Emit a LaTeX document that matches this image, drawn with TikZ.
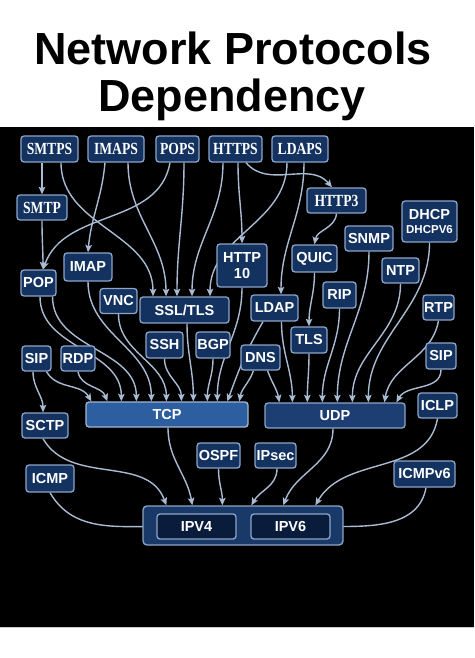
\documentclass[tikz,border=0pt]{standalone}
\usepackage{fontspec}
\setmainfont{Liberation Sans}
\newfontfamily\protoserif{Liberation Serif}[FakeStretch=0.8]
\usetikzlibrary{arrows.meta}
\definecolor{nodec}{HTML}{14325F}
\definecolor{bordc}{HTML}{8CA5C8}
\definecolor{tcpc}{HTML}{2D5FA0}
\definecolor{udpc}{HTML}{1C3E73}
\definecolor{ipcc}{HTML}{193A69}
\definecolor{ipvc}{HTML}{0A1C3C}
\definecolor{edgec}{HTML}{A9BAD3}
\pgfdeclarelayer{back}
\pgfdeclarelayer{edges}
\pgfsetlayers{back,edges,main}
\tikzset{
  box/.style={rounded corners=3pt, draw=bordc, line width=1.3pt, fill=nodec, text=white, inner sep=1pt, align=center, font=\fontsize{14.5}{16}\selectfont\bfseries},
  sbox/.style={box, font=\protoserif\fontsize{17}{17}\selectfont\bfseries},
  sz/.style 2 args={minimum width=#1pt, minimum height=#2pt},
  edge/.style={draw=edgec, line width=1.4pt, -{Stealth[length=7.5pt,width=6.5pt,inset=1.5pt]}},
  dn/.style={out=-90,in=90},
}
\begin{document}
\begin{tikzpicture}[x=1pt,y=1pt]
\useasboundingbox (0,0) rectangle (474,-658);
\begin{pgfonlayer}{back}
  \fill[white] (0,0) rectangle (474,-658);
  \fill[black] (0,-127.5) rectangle (474,-627);
  \draw[black!20, line width=1pt] (0,-627.5) -- (474,-627.5);
\end{pgfonlayer}
% title
\node[anchor=base, font=\fontsize{45}{50}\selectfont\bfseries] (t1) at (233,-65) {Network Protocols};
\node[anchor=base, font=\fontsize{45}{50}\selectfont\bfseries] (t2) at (232,-112) {Dependency};
% top row
\node[sbox, sz={57}{26}] (smtps) at (49.5,-149) {SMTPS};
\node[sbox, sz={56}{26}] (imaps) at (116,-149) {IMAPS};
\node[sbox, sz={43}{26}] (pops) at (177.5,-149) {POPS};
\node[sbox, sz={53}{26}] (https) at (235.5,-149) {HTTPS};
\node[sbox, sz={56}{26}] (ldaps) at (300,-149) {LDAPS};
\node[sbox, sz={50}{25}] (smtp) at (42,-207.5) {SMTP};
\node[sbox, sz={59}{25}] (http3) at (336.5,-200.5) {HTTP3};
% middle
\node[box, sz={55}{41}] (dhcp) at (429.5,-221.5) {DHCP\\[-2pt]{\fontsize{11.5}{12}\selectfont DHCPV6}};
\node[box, sz={48}{25}] (snmp) at (369,-238.5) {SNMP};
\node[box, sz={45}{27}] (quic) at (314.5,-258.5) {QUIC};
\node[box, sz={50}{43}] (http10) at (242,-265.5) {HTTP\\10};
\node[box, sz={48}{28}] (imap) at (88,-267) {IMAP};
\node[box, sz={37}{25}] (ntp) at (400.5,-270.5) {NTP};
\node[box, sz={35}{26}] (pop) at (38.5,-283) {POP};
\node[box, sz={33}{26}] (rip) at (339.5,-295) {RIP};
\node[box, sz={37}{25}] (vnc) at (118.5,-301) {VNC};
\node[box, sz={31}{25}] (rtp) at (438.5,-307.5) {RTP};
\node[box, sz={47}{26}] (ldap) at (274.5,-308) {LDAP};
\node[box, sz={89}{26}] (ssl) at (184.5,-310) {SSL/TLS};
\node[box, sz={36}{26}] (tls) at (309,-340) {TLS};
\node[box, sz={37}{26}] (ssh) at (164.5,-345) {SSH};
\node[box, sz={34}{26}] (bgp) at (213,-345) {BGP};
\node[box, sz={30}{26}] (sipr) at (441,-356) {SIP};
\node[box, sz={39}{25}] (dns) at (260.5,-357.5) {DNS};
\node[box, sz={29}{25}] (sipl) at (36.5,-358.5) {SIP};
\node[box, sz={34}{25}] (rdp) at (78,-358.5) {RDP};
% transport
\node[box, sz={162}{25}, fill=tcpc, draw=bordc!80!white] (tcp) at (167,-414.5) {TCP};
\node[box, sz={140}{25}, fill=udpc] (udp) at (335,-415.5) {UDP};
\node[box, sz={39}{25}] (iclp) at (437.5,-405.5) {ICLP};
\node[box, sz={46}{25}] (sctp) at (45,-425.5) {SCTP};
\node[box, sz={43}{25}] (ospf) at (218.5,-455.5) {OSPF};
\node[box, sz={41}{25}] (ipsec) at (275.5,-455.5) {IPsec};
\node[box, sz={61}{26}] (icmpv6) at (424.5,-474) {ICMPv6};
\node[box, sz={48}{27}] (icmp) at (50,-478.5) {ICMP};
% network
\node[box, sz={200}{39}, fill=ipcc, rounded corners=4pt] (ipc) at (243,-525.5) {};
\node[box, sz={79}{25}, fill=ipvc] (ipv4) at (196.5,-526.5) {IPV4};
\node[box, sz={79}{25}, fill=ipvc] (ipv6) at (290.5,-526.5) {IPV6};

\begin{pgfonlayer}{edges}
% top
\draw[edge] ([xshift=-7.5]smtps.south) -- ([xshift=0]smtp.north);
\draw[edge] ([xshift=11.5]smtps.south) to[dn] ([xshift=-31.5]ssl.north);
\draw[edge] ([xshift=-11]imaps.south) to[out=-95,in=85] (imap.north);
\draw[edge] ([xshift=12]imaps.south) to[dn] ([xshift=-18.5]ssl.north);
\draw[edge] ([xshift=-7.5]pops.south) to[out=-100,in=70] ([xshift=4.5]pop.north);
\draw[edge] ([xshift=6.5]pops.south) to[dn] ([xshift=-7.5]ssl.north);
\draw[edge] ([xshift=-12.5]https.south) to[dn] ([xshift=7.5]ssl.north);
\draw[edge] ([xshift=2.5]https.south) to[dn] (http10.north);
\draw[edge] ([xshift=10.5]https.south) to[out=-50,in=130] ([xshift=-4.5]http3.north);
\draw[edge] ([xshift=-13]ldaps.south) to[dn] ([xshift=25.5]ssl.north);
\draw[edge] ([xshift=4]ldaps.south) to[dn] ([xshift=6.5]ldap.north);
\draw[edge] (http3.south) to[out=-95,in=80] (quic.north);
\draw[edge] (smtp.south) to[dn] ([xshift=4.5]pop.north);
\draw[edge] (quic.south) to[dn] (tls.north);
% into TCP
\draw[edge] ([xshift=10]sipl.south) to[out=-60,in=120] ([xshift=6]tcp.north west);
\draw[edge] (rdp.south) to[out=-80,in=110] ([xshift=22]tcp.north west);
\draw[edge] ([xshift=1.5]pop.south) to[dn] ([xshift=36]tcp.north west);
\draw[edge] ([xshift=14]pop.south) to[dn] ([xshift=51]tcp.north west);
\draw[edge] (imap.south) to[dn] ([xshift=66]tcp.north west);
\draw[edge] (vnc.south) to[dn] ([xshift=81]tcp.north west);
\draw[edge] (ssh.south) to[dn] ([xshift=96]tcp.north west);
\draw[edge] ([xshift=2.5]ssl.south) to[dn] ([xshift=108]tcp.north west);
\draw[edge] (bgp.south) to[dn] ([xshift=122]tcp.north west);
\draw[edge] (http10.south) to[dn] ([xshift=132]tcp.north west);
\draw[edge] ([xshift=-11.5]ldap.south) to[out=-120,in=70] ([xshift=142]tcp.north west);
\draw[edge] ([xshift=-7]dns.south) to[out=-110,in=80] ([xshift=154]tcp.north west);
% into UDP
\draw[edge] ([xshift=7]dns.south) to[out=-70,in=100] ([xshift=15]udp.north west);
\draw[edge] ([xshift=7]ldap.south) to[dn] ([xshift=28]udp.north west);
\draw[edge] (tls.south) to[dn] ([xshift=43]udp.north west);
\draw[edge] (rip.south) to[dn] ([xshift=58]udp.north west);
\draw[edge] (snmp.south) to[dn] ([xshift=73]udp.north west);
\draw[edge] (ntp.south) to[dn] ([xshift=88]udp.north west);
\draw[edge] (dhcp.south) to[dn] ([xshift=104]udp.north west);
\draw[edge] (rtp.south) to[out=-100,in=80] ([xshift=120]udp.north west);
\draw[edge] (sipr.south) to[out=-90,in=60] ([xshift=132]udp.north west);
% lower
\draw[edge] ([xshift=-3.5]sipl.south) to[dn] ([xshift=-2]sctp.north);
\draw[edge] ([xshift=-2]sctp.south) to[out=-60,in=110] ([xshift=24]ipc.north west);
\draw[edge] ([xshift=1]tcp.south) to[out=-90,in=100] ([xshift=50]ipc.north west);
\draw[edge] (ospf.south) to[dn] ([xshift=80]ipc.north west);
\draw[edge] ([xshift=1.5]ipsec.south) to[out=-90,in=60] ([xshift=109]ipc.north west);
\draw[edge] ([xshift=-2]udp.south) to[out=-90,in=70] ([xshift=141]ipc.north west);
\draw[edge] (iclp.south) to[out=-100,in=60] ([xshift=173]ipc.north west);
\draw[edge] (icmp.south) to[out=-60,in=180] (ipv4.west);
\draw[edge] ([xshift=1.5]icmpv6.south) to[out=-100,in=0] (ipv6.east);
\end{pgfonlayer}
\end{tikzpicture}
\end{document}
